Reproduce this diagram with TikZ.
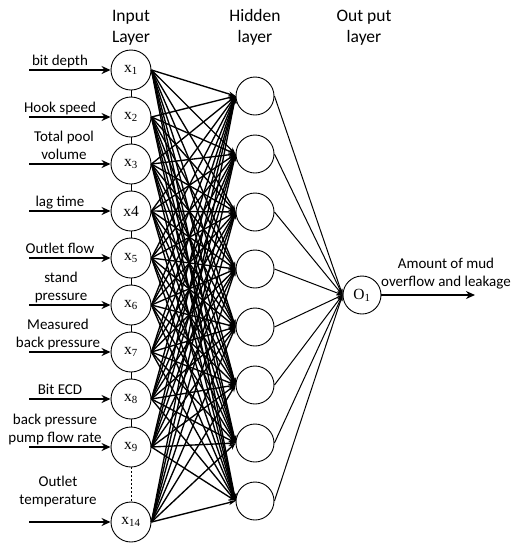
\documentclass[tikz,border=0pt]{standalone}
\usepackage{fontspec}
\setmainfont{Carlito}
\newfontfamily\tnr{Liberation Serif}
\usetikzlibrary{arrows.meta}
\begin{document}
\begin{tikzpicture}[x=1pt,y=-1pt,
  neuron/.style={circle,draw,line width=0.9pt,fill=white,minimum size=40pt,inner sep=0pt,font=\tnr\fontsize{15.5}{15.5}\selectfont},
  hid/.style={neuron,minimum size=38pt},
  inarrow/.style={line width=1.5pt,-{Stealth[length=9pt,width=8pt]}},
  conn/.style={line width=1.35pt,-{Stealth[length=7pt,width=5pt]}},
  conn2/.style={line width=1pt,-{Stealth[length=6pt,width=4pt]}},
  lbl/.style={font=\fontsize{15}{18}\selectfont,align=center,anchor=south,inner sep=0pt,text depth=0pt},
  hdr/.style={font=\fontsize{17.5}{21}\selectfont,align=center,anchor=south,inner sep=0pt,text depth=0pt}]
\useasboundingbox (0,0) rectangle (516,550);
% headers
\node[hdr] (hin) at (131,43) {Input\\Layer};
\node[hdr] (hhid) at (255,43) {Hidden\\layer};
\node[hdr] (hout) at (364,43) {Out put\\layer};
% input nodes
\node[neuron] (in1) at (131,70) {x\textsubscript{1}};
\node[neuron] (in2) at (131,117) {x\textsubscript{2}};
\node[neuron] (in3) at (131,164) {x\textsubscript{3}};
\node[neuron] (in4) at (131,211) {x4};
\node[neuron] (in5) at (131,258) {x\textsubscript{5}};
\node[neuron] (in6) at (131,305) {x\textsubscript{6}};
\node[neuron] (in7) at (131,352) {x\textsubscript{7}};
\node[neuron] (in8) at (131,399) {x\textsubscript{8}};
\node[neuron] (in9) at (131,447) {x\textsubscript{9}};
\node[neuron] (in10) at (131,522) {x\textsubscript{14}};
% hidden nodes
\foreach \k/\y in {1/96,2/154,3/212,4/269,5/327,6/385,7/443,8/501}
  \node[hid] (h\k) at (255,\y) {};
% output node
\node[hid] (o1) at (362,295) {O\textsubscript{1}};
% vertical links between inputs
\foreach \a/\b in {1/2,2/3,3/4,4/5,5/6,6/7,7/8,8/9}
  \draw[line width=0.9pt] (in\a.south) -- (in\b.north);
\draw[line width=1pt,dash pattern=on 2pt off 2pt] (in9.south) -- (in10.north);
% input arrows and labels
\foreach \k/\y in {1/70,2/117,3/164,4/211,5/258,6/305,7/352,8/399,9/447,10/522}{
  \coordinate (s\k) at (29,\y);
  \draw[inarrow] (s\k) -- (in\k.west);
}
\node[lbl] (l1) at (60,66) {bit depth};
\node[lbl] (l2) at (60,113) {Hook speed};
\node[lbl] (l3) at (64,160) {Total pool\\volume};
\node[lbl] (l4) at (60,207) {lag time};
\node[lbl] (l5) at (60,254) {Outlet flow};
\node[lbl] (l6) at (61,301) {stand\\pressure};
\node[lbl] (l7) at (58,348) {Measured\\back pressure};
\node[lbl] (l8) at (60,395) {Bit ECD};
\node[lbl] (l9) at (55,443) {back pressure\\pump flow rate};
\node[lbl] (l10) at (58,505) {Outlet\\temperature};
% input -> hidden
\foreach \i in {1,...,10}
  \foreach \k in {1,...,8}
    \draw[conn] (in\i.east) -- (h\k.west);
% hidden -> output
\foreach \k in {1,...,8}
  \draw[conn2] (h\k.east) -- (o1.west);
% output arrow
\coordinate (oend) at (475,295);
\draw[inarrow] (o1.east) -- (oend);
\node[lbl] (ol) at (446,287) {Amount of mud\\overflow and leakage};
\end{tikzpicture}
\end{document}
